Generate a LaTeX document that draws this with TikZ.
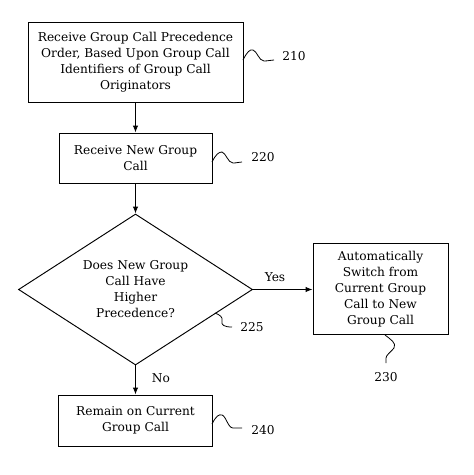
\documentclass[tikz,border=0pt]{standalone}
\usepackage{fontspec}
\setmainfont{DejaVu Serif}
\usetikzlibrary{shapes.geometric,arrows.meta}
\tikzset{
  box/.style={draw, line width=0.95pt, align=center, inner sep=0pt},
  flow/.style={line width=0.95pt, -{Latex[length=7pt,width=5.5pt]}},
  squig/.style={line width=0.8pt},
  lbl/.style={inner sep=0pt, anchor=center},
}
\begin{document}
\begin{tikzpicture}[x=1pt,y=-1pt,font=\fontsize{12.2}{16}\selectfont]
\useasboundingbox (0,0) rectangle (474,475);
\node[box, minimum width=215pt, minimum height=80pt] (b210) at (135.5,62)
  {Receive Group Call Precedence\\Order, Based Upon Group Call\\Identifiers of Group Call\\Originators};
\node[box, minimum width=153pt, minimum height=50pt] (b220) at (135.5,158)
  {Receive New Group\\Call};
\node[box, shape=diamond, aspect=1.55, minimum width=234pt, minimum height=151pt] (dia) at (135.5,289.5)
  {Does New Group\\Call Have\\Higher\\Precedence?};
\node[box, minimum width=135pt, minimum height=91pt] (b230) at (380.5,289)
  {Automatically\\Switch from\\Current Group\\Call to New\\Group Call};
\node[box, minimum width=154pt, minimum height=51pt] (b240) at (135.5,420.5)
  {Remain on Current\\Group Call};

\draw[flow] (b210) -- (b220);
\draw[flow] (b220) -- (dia);
\draw[flow] (dia.east) -- (b230.west |- dia.east);
\draw[flow] (dia.south) -- (b240);
\node[lbl] (yes) at (275,277) {Yes};
\node[lbl] (no) at (161,378) {No};

% reference numerals
\node[lbl] (n210) at (294,56) {210};
\node[lbl] (n220) at (263,157) {220};
\node[lbl] (n225) at (252,327) {225};
\node[lbl] (n230) at (386,377) {230};
\node[lbl] (n240) at (263,430) {240};

\coordinate (s210a) at (243,60);
\coordinate (s210b) at (274,60);
\draw[squig] (s210a) .. controls (247,52) and (250,49) .. (253,50)
  .. controls (257,51) and (259,61) .. (264,61) .. controls (268,61) and (271,60) .. (s210b);
\coordinate (s220a) at (212,162);
\coordinate (s220b) at (242,162);
\draw[squig] (s220a) .. controls (216,154) and (219,152) .. (222,152)
  .. controls (226,153) and (228,163) .. (233,163) .. controls (237,163) and (239,162) .. (s220b);
\coordinate (s240a) at (212,424);
\coordinate (s240b) at (242,428);
\draw[squig] (s240a) .. controls (216,416) and (219,414) .. (222,415)
  .. controls (226,416) and (228,428) .. (233,428) .. controls (237,428) and (239,428) .. (s240b);
\coordinate (s225a) at (215,313);
\coordinate (s225b) at (232,327);
\draw[squig] (s225a) .. controls (220,315) and (223,317) .. (222,321)
  .. controls (221,325) and (224,327) .. (s225b);
\coordinate (s230a) at (385,335);
\coordinate (s230b) at (386,363);
\draw[squig] (s230a) .. controls (390,339) and (397,343) .. (394,348)
  .. controls (391,352) and (386,355) .. (386,358) -- (s230b);
\end{tikzpicture}
\end{document}
